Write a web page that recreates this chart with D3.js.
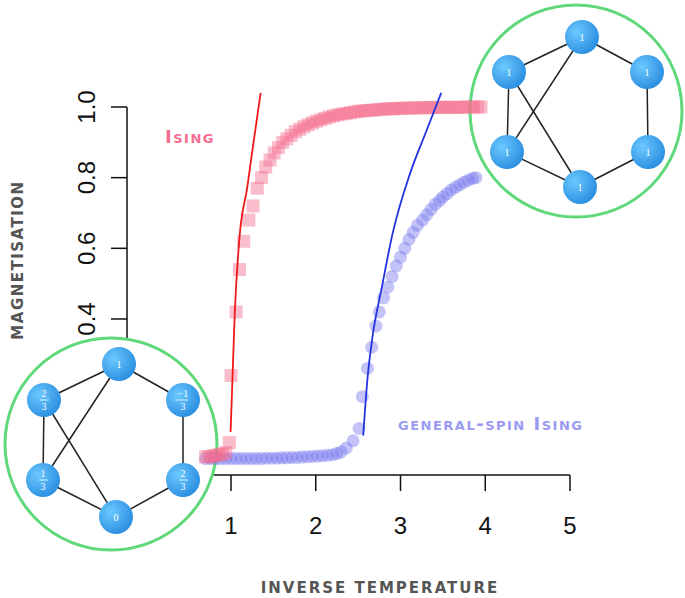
<!DOCTYPE html>
<html><head><meta charset="utf-8">
<script src="https://cdn.jsdelivr.net/npm/d3@7"></script>
<style>body{margin:0;background:#fff}</style></head>
<body><svg id="c" width="685" height="598"></svg>
<script>
const isingX = [0.70,0.74,0.78,0.82,0.86,0.90,0.94,0.98,1.00,1.06,1.10,1.15,1.21,1.26,1.31,1.36,1.41,1.46,1.51,1.56,1.61,1.66,1.71,1.76,1.81,1.86,1.91,1.96,2.01,2.06,2.11,2.16,2.21,2.26,2.31,2.36,2.41,2.46,2.51,2.56,2.61,2.66,2.71,2.76,2.81,2.86,2.91,2.96,3.01,3.06,3.11,3.16,3.21,3.26,3.31,3.36,3.41,3.46,3.51,3.56,3.61,3.66,3.71,3.76,3.81,3.86,3.91,3.95];
const isingY = [0.01,0.01,0.012,0.014,0.016,0.018,0.022,0.05,0.24,0.42,0.54,0.62,0.68,0.72,0.77,0.80,0.83,0.85,0.87,0.885,0.90,0.91,0.92,0.93,0.937,0.944,0.95,0.955,0.96,0.964,0.968,0.972,0.975,0.978,0.98,0.982,0.984,0.986,0.988,0.989,0.99,0.991,0.992,0.993,0.994,0.995,0.995,0.996,0.996,0.997,0.997,0.997,0.998,0.998,0.998,0.998,0.999,0.999,0.999,0.999,0.999,0.999,0.999,1.0,1.0,1.0,1.0,1.0];
const spinX = [0.70,0.76,0.82,0.88,0.94,1.00,1.06,1.12,1.18,1.24,1.30,1.36,1.42,1.48,1.54,1.60,1.66,1.72,1.78,1.84,1.90,1.96,2.02,2.08,2.14,2.20,2.25,2.30,2.36,2.44,2.51,2.55,2.61,2.66,2.71,2.75,2.80,2.85,2.90,2.95,3.00,3.05,3.10,3.15,3.20,3.26,3.31,3.36,3.41,3.46,3.50,3.55,3.60,3.65,3.70,3.75,3.80,3.85,3.89];
const spinY = [0.005,0.005,0.005,0.005,0.005,0.005,0.005,0.005,0.005,0.005,0.005,0.005,0.006,0.006,0.006,0.007,0.007,0.008,0.008,0.009,0.01,0.011,0.012,0.013,0.014,0.016,0.019,0.024,0.035,0.055,0.09,0.18,0.26,0.32,0.38,0.42,0.46,0.49,0.52,0.55,0.575,0.60,0.625,0.645,0.665,0.68,0.695,0.71,0.725,0.735,0.745,0.755,0.765,0.773,0.78,0.787,0.793,0.798,0.80];
const redX = [0.995,1.01,1.045,1.10,1.19,1.26,1.35];
const redY = [0.08,0.18,0.42,0.63,0.77,0.89,1.04];
const blueX = [2.56,2.61,2.67,2.78,2.91,3.11,3.31,3.48];
const blueY = [0.07,0.23,0.35,0.49,0.645,0.81,0.935,1.04];
const xTicks = [1,2,3,4,5];
const yTicks = [0.4,0.6,0.8,1.0];
const leftLabels = ["1","−1/3","2/3","0","1/3","2/3"];
const rightLabels = ["1","1","1","1","1","1"];

const svg = d3.select("#c");
const x = d3.scaleLinear().domain([0,5]).range([146.25,570]);
const y = d3.scaleLinear().domain([0,1]).range([460.3,107]);

// axes
svg.append("line").attr("x1",205).attr("x2",570).attr("y1",475).attr("y2",475).attr("stroke","#111").attr("stroke-width",1.5);
svg.selectAll(".xt").data(xTicks).enter().append("line").attr("x1",d=>x(d)).attr("x2",d=>x(d)).attr("y1",475).attr("y2",491).attr("stroke","#111").attr("stroke-width",1.5);
svg.selectAll(".xl").data(xTicks).enter().append("text").attr("x",d=>x(d)).attr("y",534).attr("text-anchor","middle").attr("font-family","Liberation Sans, Arial").attr("font-size",24).attr("fill","#111").text(d=>d);
svg.append("line").attr("x1",127).attr("x2",127).attr("y1",107).attr("y2",345).attr("stroke","#111").attr("stroke-width",1.5);
svg.selectAll(".yt").data(yTicks).enter().append("line").attr("x1",111).attr("x2",127).attr("y1",d=>y(d)).attr("y2",d=>y(d)).attr("stroke","#111").attr("stroke-width",1.5);
svg.selectAll(".yl").data(yTicks).enter().append("text").attr("transform",d=>`translate(95,${y(d)}) rotate(-90)`).attr("text-anchor","middle").attr("font-family","Liberation Sans, Arial").attr("font-size",24).attr("fill","#111").text(d=>d.toFixed(1));
svg.append("text").attr("transform","translate(23,260) rotate(-90)").attr("text-anchor","middle").attr("font-family","DejaVu Sans").attr("font-weight","bold").attr("font-size",15).attr("letter-spacing",1.5).attr("fill","#555").text("MAGNETISATION");
svg.append("text").attr("x",380).attr("y",593).attr("text-anchor","middle").attr("font-family","DejaVu Sans").attr("font-weight","bold").attr("font-size",15).attr("letter-spacing",2).attr("fill","#555").text("INVERSE TEMPERATURE");

// graph insets
const edges = [[0,1],[1,2],[2,3],[3,4],[4,5],[5,0],[4,0],[5,3]]; // 0 top,1 UR,2 LR,3 bottom,4 LL,5 UL
function inset(cx,cy,pos,labels,gid){
  const g = svg.append("g");
  g.append("circle").attr("cx",cx).attr("cy",cy).attr("r",106).attr("fill","#fff").attr("stroke","#5fd87a").attr("stroke-width",3);
  g.selectAll("line").data(edges).enter().append("line")
   .attr("x1",e=>cx+pos[e[0]][0]).attr("y1",e=>cy+pos[e[0]][1]).attr("x2",e=>cx+pos[e[1]][0]).attr("y2",e=>cy+pos[e[1]][1]).attr("stroke","#222").attr("stroke-width",1.5);
  const grad = svg.append("defs").append("radialGradient").attr("id",gid).attr("cx","35%").attr("cy","35%").attr("r","70%");
  grad.append("stop").attr("offset","0%").attr("stop-color","#6cc8ff");
  grad.append("stop").attr("offset","100%").attr("stop-color","#2a8ee0");
  pos.forEach((p,i)=>{
    g.append("circle").attr("cx",cx+p[0]).attr("cy",cy+p[1]).attr("r",17).attr("fill",`url(#${gid})`);
    const l = labels[i];
    if(l.includes("/")){
      const [n,dn]=l.split("/");
      g.append("text").attr("x",cx+p[0]).attr("y",cy+p[1]-3).attr("text-anchor","middle").attr("font-family","Liberation Serif").attr("font-size",10).attr("fill","#fff").text(n);
      g.append("line").attr("x1",cx+p[0]-(n.length>1?8:4)).attr("x2",cx+p[0]+5).attr("y1",cy+p[1]).attr("y2",cy+p[1]).attr("stroke","#fff").attr("stroke-width",0.8);
      g.append("text").attr("x",cx+p[0]).attr("y",cy+p[1]+10).attr("text-anchor","middle").attr("font-family","Liberation Serif").attr("font-size",10).attr("fill","#fff").text(dn);
    } else {
      g.append("text").attr("x",cx+p[0]).attr("y",cy+p[1]+4).attr("text-anchor","middle").attr("font-family","Liberation Serif").attr("font-size",10).attr("fill","#fff").text(l);
    }
  });
}
inset(111,444,[[8,-80],[72,-44],[72,36],[5,73],[-68,36],[-67,-44]],leftLabels,"gl");
inset(576,111,[[6,-74],[71,-39],[72,41],[4,76],[-69,41],[-67,-39]],rightLabels,"gr");

// data
svg.selectAll(".sp").data(spinX).enter().append("circle").attr("cx",d=>x(d)).attr("cy",(d,i)=>y(spinY[i])).attr("r",6.5).attr("fill","#7b7bf0").attr("fill-opacity",0.45);
svg.selectAll(".is").data(isingX).enter().append("rect").attr("x",d=>x(d)-6.5).attr("y",(d,i)=>y(isingY[i])-6.5).attr("width",13).attr("height",13).attr("fill","#f46d8e").attr("fill-opacity",0.45);
const line = d3.line().curve(d3.curveMonotoneX);
svg.append("path").attr("d",line(redX.map((d,i)=>[x(d),y(redY[i])]))).attr("fill","none").attr("stroke","#f01818").attr("stroke-width",1.8);
svg.append("path").attr("d",line(blueX.map((d,i)=>[x(d),y(blueY[i])]))).attr("fill","none").attr("stroke","#2233e0").attr("stroke-width",1.8);

svg.append("text").attr("x",165).attr("y",143).attr("font-family","DejaVu Sans").attr("font-weight","bold").attr("font-size",18).attr("letter-spacing",1.5).attr("fill","#f46d8e").style("font-variant","small-caps").text("Ising");
svg.append("text").attr("x",398).attr("y",430).attr("font-family","DejaVu Sans").attr("font-weight","bold").attr("font-size",18).attr("letter-spacing",1.5).attr("fill","#9a9af2").style("font-variant","small-caps").text("general-spin Ising");
</script></body></html>
